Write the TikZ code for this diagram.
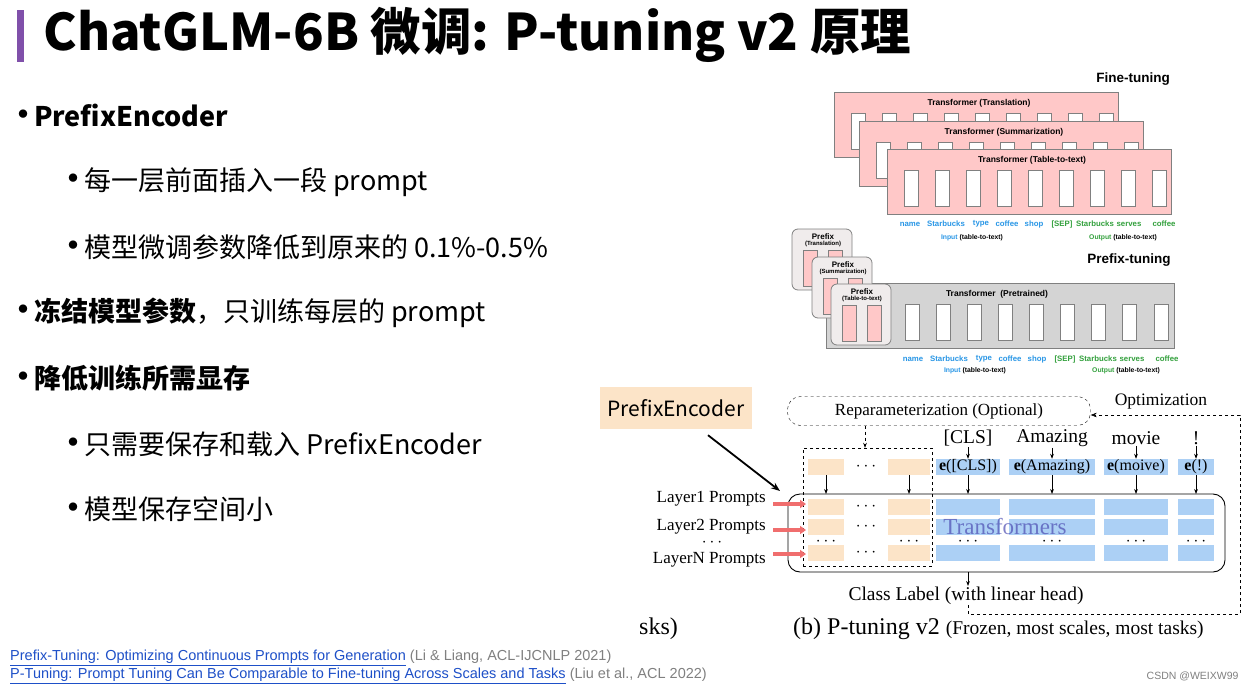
\documentclass[tikz,border=0pt]{standalone}
\usepackage{fontspec}
\setmainfont{Noto Sans CJK SC}
\newfontfamily\tnr{Liberation Serif}
\newfontfamily\arl{Liberation Sans}
\usetikzlibrary{positioning,arrows.meta}
\definecolor{titlebar}{RGB}{128,80,170}
\definecolor{ftpink}{RGB}{255,200,200}
\definecolor{prgray}{RGB}{212,212,212}
\definecolor{pxgray}{RGB}{240,236,236}
\definecolor{inblue}{RGB}{40,150,230}
\definecolor{outgreen}{RGB}{50,160,60}
\definecolor{peach}{RGB}{252,228,200}
\definecolor{eblue}{RGB}{172,208,245}
\definecolor{arrowpink}{RGB}{240,110,110}
\definecolor{linkblue}{RGB}{30,80,200}
\newcommand{\bul}{\makebox[26pt][l]{\raisebox{1pt}{\fontsize{30}{30}\selectfont\textbf{•}}}}
\newcommand{\hdots}{{\fontsize{18}{18}\selectfont$\cdots$}}
\tikzset{
  bullet/.style={anchor=west,inner sep=0pt,font=\fontsize{27}{30}\selectfont},
  ftbox/.style={draw=gray,fill=ftpink,line width=0.8pt},
  slot/.style={draw=gray,fill=white,minimum width=14pt,minimum height=36pt,inner sep=0pt,line width=0.6pt},
  pslot/.style={slot,fill=ftpink},
  fttitle/.style={font=\arl\bfseries\fontsize{8.5}{9}\selectfont},
  word/.style={font=\arl\bfseries\fontsize{7.8}{9}\selectfont,inner sep=0pt},
  small/.style={font=\arl\bfseries\fontsize{6.8}{7}\selectfont,inner sep=0pt},
  pxbox/.style={draw=gray,fill=pxgray,rounded corners=6pt,line width=0.8pt},
  tok/.style={font=\tnr\fontsize{19.5}{21}\selectfont,inner sep=1pt},
  cell/.style={minimum height=16pt,inner sep=0pt},
  dn/.style={-{Stealth[length=5pt]},line width=0.7pt},
}
\begin{document}
\begin{tikzpicture}[x=1pt,y=-1pt]
\useasboundingbox[fill=white] (0,0) rectangle (1246,690);
% title
\fill[titlebar] (17,10) rectangle (24,62);
\node[anchor=west,font=\bfseries\fontsize{50.5}{54}\selectfont] (title) at (40,35) {ChatGLM-6B 微调: P-tuning v2 原理};
% bullets
\node[bullet] (b1) at (8,115) {\bul\textbf{PrefixEncoder}};
\node[bullet] (b2) at (58,182) {\bul 每一层前面插入一段 prompt};
\node[bullet] (b3) at (58,247) {\bul 模型微调参数降低到原来的 0.1\%-0.5\%};
\node[bullet] (b4) at (8,313) {\bul\textbf{冻结模型参数}，只训练每层的 prompt};
\node[bullet] (b5) at (8,378) {\bul\textbf{降低训练所需显存}};
\node[bullet] (b6) at (58,444) {\bul 只需要保存和载入 PrefixEncoder};
\node[bullet] (b7) at (58,509) {\bul 模型保存空间小};
% references
\node[anchor=west,inner sep=0pt,font=\arl\fontsize{14.5}{16}\selectfont] (ref1) at (10,658) {\textcolor{linkblue}{\underline{Prefix-Tuning: Optimizing Continuous Prompts for Generation}} \textcolor{gray}{(Li \& Liang, ACL-IJCNLP 2021)}};
\node[anchor=west,inner sep=0pt,font=\arl\fontsize{14.5}{16}\selectfont] (ref2) at (10,676) {\textcolor{linkblue}{\underline{P-Tuning: Prompt Tuning Can Be Comparable to Fine-tuning Across Scales and Tasks}} \textcolor{gray}{(Liu et al., ACL 2022)}};
\node[anchor=east,text=gray,font=\arl\fontsize{10.5}{12}\selectfont] (mark) at (1242,676) {CSDN @WEIXW99};

% fine-tuning
\node[font=\arl\bfseries\fontsize{13.5}{15}\selectfont] (ft) at (1133,79) {Fine-tuning};
\foreach \bx/\by/\name in {834/92/Translation,859/121/Summarization,887/149/Table-to-text}{
  \draw[ftbox] (\bx,\by) rectangle ++(284,65);
  \node[fttitle] at (\bx+145,\by+11) {Transformer (\name)};
  \foreach \i in {0,...,8}
    \node[slot] at (\bx+24+31*\i,\by+39) {};
}
\foreach \w/\x/\c in {name/910/inblue,Starbucks/946/inblue,type/981/inblue,coffee/1007/inblue,shop/1034/inblue,[SEP]/1062/outgreen,Starbucks/1095/outgreen,serves/1129/outgreen,coffee/1164/outgreen}
  \node[word,text=\c] at (\x,224) {\w};
\node[small] (in1) at (972,238) {\textcolor{inblue}{Input} (table-to-text)};
\node[small] (out1) at (1123,238) {\textcolor{outgreen}{Output} (table-to-text)};

% prefix-tuning
\node[font=\arl\bfseries\fontsize{13.5}{15}\selectfont] (pt) at (1129,260) {Prefix-tuning};
\draw[draw=gray,fill=prgray,line width=0.8pt] (826,283) rectangle (1174,348);
\node[fttitle] (pre) at (997,294) {Transformer\ \ (Pretrained)};
\foreach \i in {0,...,8}
  \node[slot] at (912+31.1*\i,322) {};
\foreach \bx/\by/\name in {792/229/Translation,812/257/Summarization,831/284/Table-to-text}{
  \draw[pxbox] (\bx,\by) rectangle ++(60,61);
  \node[font=\arl\bfseries\fontsize{8}{8}\selectfont,inner sep=0pt] at (\bx+31,\by+8) {Prefix};
  \node[font=\arl\bfseries\fontsize{6}{6}\selectfont,inner sep=0pt] at (\bx+31,\by+15) {(\name)};
  \node[pslot] at (\bx+18,\by+39) {};
  \node[pslot] at (\bx+43,\by+39) {};
}
\foreach \w/\x/\c in {name/913/inblue,Starbucks/949/inblue,type/984/inblue,coffee/1010/inblue,shop/1037/inblue,[SEP]/1065/outgreen,Starbucks/1098/outgreen,serves/1132/outgreen,coffee/1167/outgreen}
  \node[word,text=\c] at (\x,359) {\w};
\node[small] (in2) at (975,371) {\textcolor{inblue}{Input} (table-to-text)};
\node[small] (out2) at (1126,371) {\textcolor{outgreen}{Output} (table-to-text)};

% p-tuning v2
\node[fill=peach,minimum width=152pt,minimum height=42pt,font=\fontsize{21}{23}\selectfont] (penc) at (676,408) {PrefixEncoder};
\node[draw,dashed,rounded corners=13pt,minimum width=303pt,minimum height=29pt,tok,font=\tnr\fontsize{17}{19}\selectfont] (rep) at (939,411) {Reparameterization (Optional)};
\node[tok,font=\tnr\fontsize{17.5}{19}\selectfont] (opt) at (1161,402) {Optimization};
\node[draw,dashed,minimum width=129pt,minimum height=118pt,inner sep=0pt] (pbox) at (867.5,507) {};
\draw[rounded corners=12pt,line width=0.9pt] (788,494) rectangle (1225,572);
\coordinate (tb) at (0,494);
% token row
\foreach \w/\e/\x/\wdt in {cls/{[CLS]}/968/64,ama/Amazing/1052/86,mov/moive/1136/64,exc/!/1196/36}{
  \node[cell,fill=eblue,minimum width=\wdt pt,font=\tnr\fontsize{16}{18}\selectfont] (e\w) at (\x,467) {\textbf{e}(\e)};
  \draw[dn] (e\w.south) -- (e\w.south |- tb);
  \foreach \r in {507,527,553}
    \node[cell,fill=eblue,minimum width=\wdt pt] at (\x,\r) {};
  \node at (\x,542) {\hdots};
}
\foreach \w/\t in {cls/{[CLS]},ama/Amazing,mov/movie,exc/!}{
  \node[tok] (t\w) at (e\w |- 0,438) {\t};
  \draw[dn] (t\w.south) -- (e\w.north);
}
% prefix cells
\foreach \x/\wdt/\n in {826/36/a,909/42/b}{
  \node[cell,fill=peach,minimum width=\wdt pt] (p\n) at (\x,467) {};
  \draw[dn] (p\n.south) -- (p\n.south |- tb);
  \foreach \r in {507,527,553}
    \node[cell,fill=peach,minimum width=\wdt pt] at (\x,\r) {};
}
\node at (826,542) {\hdots};
\node at (909,542) {\hdots};
\foreach \r in {467,507,527,553}
  \node at (866,\r) {\hdots};
\node[text=blue!40!gray,opacity=0.7,font=\tnr\fontsize{23}{24}\selectfont] (trf) at (1005,527) {Transformers};
\draw[dn,dashed] (rep.south -| 865,0) -- (pbox.north -| 865,0);
% layer labels
\foreach \n/\t/\r/\a in {l1/Layer1 Prompts/499/504,l2/Layer2 Prompts/527/530,ln/LayerN Prompts/560/554}{
  \node[tok,anchor=east,font=\tnr\fontsize{17}{19}\selectfont] (\n) at (767,\r) {\t};
  \draw[-{Triangle[length=6pt,width=8pt]},arrowpink,line width=3.5pt] (773,\a) -- (806,\a);
}
\node[inner sep=0pt] (ld) at (712,543) {\hdots};
\draw[-{Stealth[length=9pt]},line width=1.8pt] (penc.south) ++(32,6) -- (780,491);
% class label
\node[tok] (cl) at (966,596) {Class Label (with linear head)};
\draw[dn] (968,572) -- (cl.north -| 968,0);
\coordinate (o1) at (968,605);
\coordinate (o2) at (1240,614);
\draw[dashed,-{Stealth[length=6pt]}] (o1) -- (o1 |- o2) -- (o2) -- (1240,415) -- (rep.east |- 0,415);
\node[tok,anchor=west] (cap) at (792,629) {\fontsize{24}{26}\selectfont (b) P-tuning v2 \fontsize{19.5}{21}\selectfont(Frozen, most scales, most tasks)};
\node[tok,anchor=west,font=\tnr\fontsize{24}{26}\selectfont] (sks) at (638,629) {sks)};
\end{tikzpicture}
\end{document}
